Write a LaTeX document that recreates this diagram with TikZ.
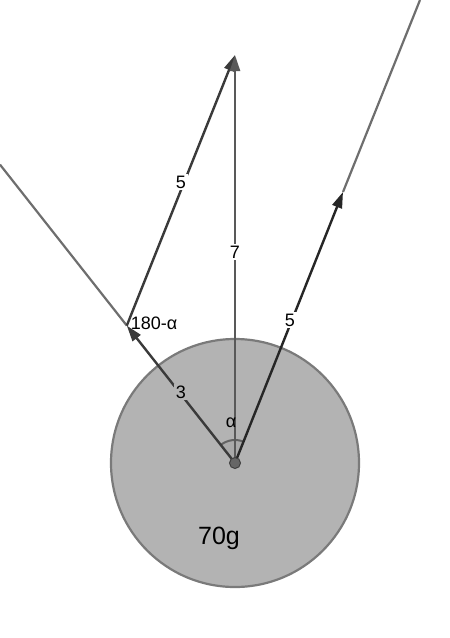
\documentclass[tikz,border=0pt]{standalone}
\usepackage{fontspec}
\setmainfont{Liberation Sans}
\usetikzlibrary{arrows.meta,calc}

\definecolor{discfill}{HTML}{B3B3B3}
\definecolor{discline}{HTML}{7A7A7A}
\definecolor{vecline}{HTML}{3A3A3A}
\definecolor{rayline}{HTML}{6E6E6E}

\begin{document}
\begin{tikzpicture}[
    x=0.5pt, y=-0.5pt,
    vec/.style={-{Triangle[length=8pt, width=5pt]}, line width=1.2pt, draw=vecline},
    ray/.style={line width=1.1pt, draw=rayline},
    lbl/.style={font=\fontsize{9}{10}\selectfont, inner sep=1pt, fill=white},
    lbl in/.style={lbl, fill=discfill}
]
\useasboundingbox (0,0) rectangle (450,638);

% Disc and its centre
\node[circle, draw=discline, fill=discfill, line width=1.1pt,
      minimum size=124pt, inner sep=0pt] (disc) at (235,463) {};
\coordinate (O) at (235,463);

% Tips of the vectors
\coordinate (A) at (126.8,325.6);
\coordinate (B) at (235,55);
\coordinate (C) at (343,192);

% Free ends of the rays
\coordinate (L) at (0,164.6);
\coordinate (R) at (420,0);

% Angle alpha at the centre
\fill[black!40, opacity=0.35] (O) -- ($(O)!11.5pt!(A)$) arc[start angle=128.2, end angle=68.2, radius=11.5pt] -- cycle;
\draw[discline!80!black, line width=1pt] ($(O)!11.5pt!(A)$) arc[start angle=128.2, end angle=68.2, radius=11.5pt];

% Rays
\draw[ray] (A) -- (L);
\draw[ray] (C) -- (R);

% Vectors
\draw[vec] (O) -- (A);
\draw[vec] (A) -- (B);
\draw[vec, draw=black!65] (O) -- (B);
\draw[vec, draw=black!85] (O) -- (C);

% Centre point
\node[circle, fill=black!60, draw=black!75, line width=0.5pt,
      minimum size=5.5pt, inner sep=0pt] (centre) at (O) {};

% Labels
\node[lbl] (l5a) at (181,182) {5};
\node[lbl] (l7) at (235,252) {7};
\node[lbl] (l5b) at (290,320) {5};
\node[lbl in] (l3) at (181,392) {3};
\node[font=\fontsize{9}{10}\selectfont, inner sep=0pt] (beta) at (154,323) {180-α};
\node[font=\fontsize{9}{10}\selectfont, inner sep=0pt] (alpha) at (231,423) {α};
\node[font=\fontsize{12.5}{14}\selectfont, inner sep=0pt] (mass) at (219,538) {70g};

\end{tikzpicture}
\end{document}
